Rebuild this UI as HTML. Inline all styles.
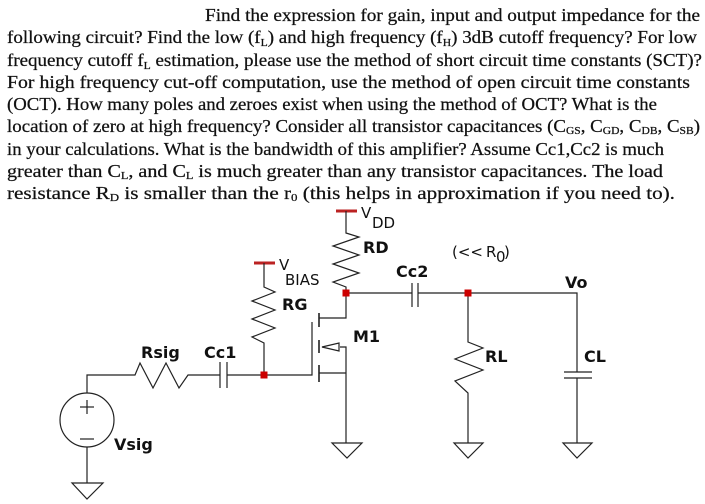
<!DOCTYPE html>
<html><head><meta charset="utf-8"><style>
html,body{margin:0;padding:0;background:#fff;}
svg{display:block;}
.t{font-family:"Liberation Serif",serif;font-size:18px;fill:#111;stroke:#111;stroke-width:0.25;}
.s{font-size:11px;}
.b{font-family:"DejaVu Sans",sans-serif;font-weight:bold;font-size:16px;fill:#111;}
.n{font-family:"DejaVu Sans",sans-serif;font-size:15px;fill:#111;}
.w{stroke:#222;stroke-width:1.2;fill:none;}
</style></head><body>
<svg width="705" height="504" viewBox="0 0 705 504" xmlns="http://www.w3.org/2000/svg">
<text class="t" x="205" y="21" textLength="495" lengthAdjust="spacingAndGlyphs">Find the expression for gain, input and output impedance for the</text>
<text class="t" x="7" y="43" textLength="690" lengthAdjust="spacingAndGlyphs">following circuit? Find the low (f<tspan class="s" dy="3">L</tspan><tspan dy="-3">) and high frequency (f</tspan><tspan class="s" dy="3">H</tspan><tspan dy="-3">) 3dB cutoff frequency? For low</tspan></text>
<text class="t" x="7" y="66" textLength="695" lengthAdjust="spacingAndGlyphs">frequency cutoff f<tspan class="s" dy="3">L</tspan><tspan dy="-3"> estimation, please use the method of short circuit time constants (SCT)?</tspan></text>
<text class="t" x="7" y="88" textLength="683" lengthAdjust="spacingAndGlyphs">For high frequency cut-off computation, use the method of open circuit time constants</text>
<text class="t" x="7" y="110" textLength="650" lengthAdjust="spacingAndGlyphs">(OCT). How many poles and zeroes exist when using the method of OCT?  What is the</text>
<text class="t" x="7" y="132" textLength="693" lengthAdjust="spacingAndGlyphs">location of zero at high frequency?   Consider all transistor capacitances (C<tspan class="s" dy="2">GS</tspan><tspan dy="-2">, C</tspan><tspan class="s" dy="2">GD</tspan><tspan dy="-2">, C</tspan><tspan class="s" dy="2">DB</tspan><tspan dy="-2">, C</tspan><tspan class="s" dy="2">SB</tspan><tspan dy="-2">)</tspan></text>
<text class="t" x="7" y="155" textLength="657" lengthAdjust="spacingAndGlyphs">in your calculations.  What is the bandwidth of this amplifier? Assume Cc1,Cc2  is much</text>
<text class="t" x="7" y="177" textLength="656" lengthAdjust="spacingAndGlyphs">greater than C<tspan class="s" dy="2">L</tspan><tspan dy="-2">, and C</tspan><tspan class="s" dy="2">L</tspan><tspan dy="-2"> is much greater than any transistor capacitances.  The load</tspan></text>
<text class="t" x="7" y="199" textLength="668" lengthAdjust="spacingAndGlyphs">resistance R<tspan class="s" dy="2">D</tspan><tspan dy="-2"> is smaller than the r</tspan><tspan class="s" dy="2">0</tspan><tspan dy="-2"> (this helps in approximation if you need to).</tspan></text>

<!-- VDD / RD -->
<line x1="336" y1="211" x2="357" y2="211" stroke="#b22" stroke-width="3"/>
<polyline class="w" points="346,211 346,233 359,237 333,246 359,255 333,264 359,273 333,282 346,287 346,293"/>
<text class="n" x="361" y="218" font-size="17">V</text><text class="n" x="372" y="228" font-size="16">DD</text>
<text class="b" x="363" y="253">RD</text>
<!-- VBIAS / RG -->
<line x1="254" y1="263" x2="275" y2="263" stroke="#b22" stroke-width="3"/>
<polyline class="w" points="264,263 264,287 275,292 252,301 275,310 252,319 275,328 252,337 264,343 264,375"/>
<text class="n" x="279" y="270" font-size="16">V</text><text class="n" x="285" y="285" font-size="16">BIAS</text>
<text class="b" x="282" y="310">RG</text>
<!-- drain to output -->
<polyline class="w" points="346,293 412,293"/>
<line class="w" x1="412" y1="283" x2="412" y2="307"/><line class="w" x1="418" y1="283" x2="418" y2="307"/>
<polyline class="w" points="418,293 577,293 577,372"/>
<text class="b" x="396" y="277">Cc2</text>
<text class="n" x="452" y="257" font-size="16" textLength="31" lengthAdjust="spacingAndGlyphs">(&lt;&lt;</text>
<text class="n" x="486" y="257" font-size="16">R</text><text class="n" x="496" y="262" font-size="12">0</text><text class="n" x="504" y="257" font-size="16">)</text>
<text class="b" x="565" y="288">Vo</text>
<!-- MOSFET -->
<polyline class="w" points="346,293 346,318 319,318"/>
<line x1="319" y1="313" x2="319" y2="327" stroke="#222" stroke-width="1.6"/>
<line x1="319" y1="340" x2="319" y2="353" stroke="#222" stroke-width="1.6"/>
<line x1="319" y1="365" x2="319" y2="382" stroke="#222" stroke-width="1.6"/>
<polyline class="w" points="312,322 312,375 264,375"/>
<polyline class="w" points="319,373 346,373"/>
<polyline class="w" points="340,347 346,347 346,443"/>
<polygon class="w" points="322,347 339,343 339,351"/>
<text class="b" x="353" y="342">M1</text>
<polygon class="w" points="332,443 362,443 347,458"/>
<!-- RL -->
<polyline class="w" points="468,293 468,342 483,348 455,359 483,370 455,381 468,393 468,443"/>
<text class="b" x="485" y="362">RL</text>
<polygon class="w" points="454,443 483,443 468,458"/>
<!-- CL -->
<line class="w" x1="564" y1="372" x2="592" y2="372"/><line class="w" x1="564" y1="378" x2="592" y2="378"/>
<line class="w" x1="577" y1="378" x2="577" y2="443"/>
<text class="b" x="584" y="362">CL</text>
<polygon class="w" points="563,443 592,443 577,458"/>
<!-- input -->
<polyline class="w" points="87,393 87,375 135,375 140,363 153,388 166,363 179,388 188,375 220,375"/>
<line class="w" x1="220" y1="362" x2="220" y2="388"/><line class="w" x1="227" y1="362" x2="227" y2="388"/>
<line class="w" x1="227" y1="375" x2="264" y2="375"/>
<text class="b" x="141" y="358">Rsig</text>
<text class="b" x="204" y="358">Cc1</text>
<circle class="w" cx="87" cy="420" r="27"/>
<line class="w" x1="80" y1="407" x2="94" y2="407"/><line class="w" x1="87" y1="400" x2="87" y2="414"/>
<line class="w" x1="80" y1="439" x2="94" y2="439"/>
<line class="w" x1="87" y1="447" x2="87" y2="483"/>
<polygon class="w" points="72,483 103,483 87,499"/>
<text class="b" x="114" y="450">Vsig</text>
<!-- nodes -->
<rect x="342.5" y="289.5" width="7" height="7" fill="#c00"/>
<rect x="464.5" y="289.5" width="7" height="7" fill="#c00"/>
<rect x="260.5" y="371.5" width="7" height="7" fill="#c00"/>
</svg>
</body></html>
